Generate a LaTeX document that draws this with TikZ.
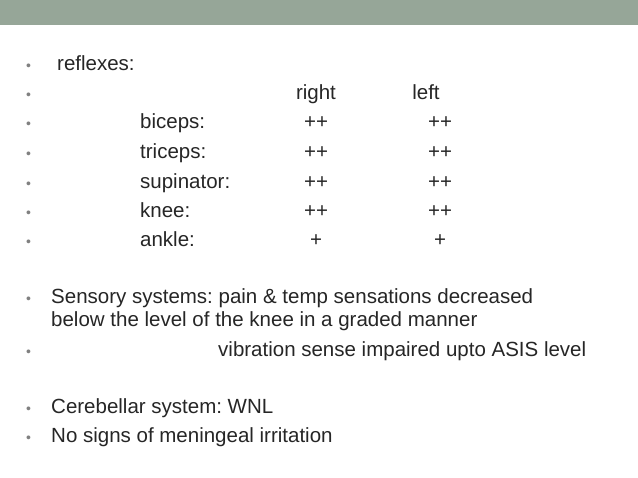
\documentclass[tikz,border=0pt]{standalone}
\usepackage{fontspec}
\setmainfont{Liberation Sans}
\frenchspacing
\begin{document}
\begin{tikzpicture}[x=1pt,y=-1pt,
  txt/.style={anchor=base west,inner sep=0pt,font=\fontsize{20.5}{24}\selectfont,text=black!85},
  ctr/.style={anchor=base,inner sep=0pt,font=\fontsize{20.5}{24}\selectfont,text=black!85},
  bul/.style={anchor=base west,inner sep=0pt,font=\fontsize{14}{16}\selectfont,text=gray}]
\fill[white] (0,0) rectangle (638,478);
\useasboundingbox (0,0) rectangle (638,478);
\fill[fill={rgb,255:red,150;green,166;blue,152}] (0,0) rectangle (638,25);
\foreach \y/\n in {71/a,100/b,129/c,159/d,189/e,218/f,247/g,304/h,357/i,414/j,443/k}
  \node[bul] (b\n) at (26,\y) {•};
\node[txt] (t1) at (57,71) {reflexes:};
\node[ctr] (r) at (316,100) {right};
\node[ctr] (l) at (426,100) {left};
\foreach \y/\lab/\a/\n in {129/biceps:/++/1,159/triceps:/++/2,189/supinator:/++/3,218/knee:/++/4,247/ankle:/+/5}{
  \node[txt] (L\n) at (140,\y) {\lab};
  \node[ctr] (R\n) at (316,\y) {\a};
  \node[ctr] (F\n) at (440,\y) {\a};
}
\node[txt] (s1) at (51,304) {Sensory systems: pain \& temp sensations decreased};
\node[txt] (s2) at (51,327) {below the level of the knee in a graded manner};
\node[txt] (s3) at (218,357) {vibration sense impaired upto ASIS level};
\node[txt] (c1) at (51,414) {Cerebellar system: WNL};
\node[txt] (c2) at (51,443) {No signs of meningeal irritation};
\end{tikzpicture}
\end{document}
